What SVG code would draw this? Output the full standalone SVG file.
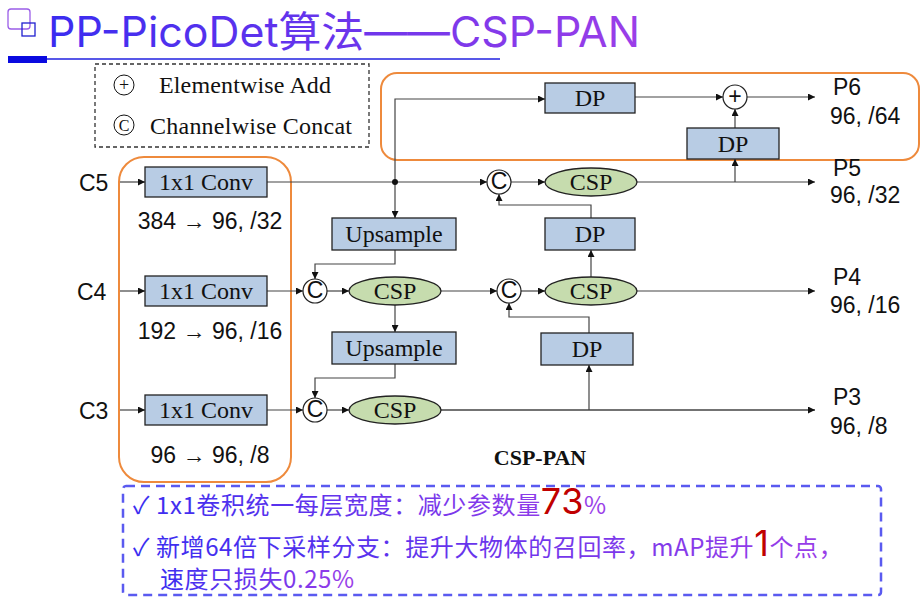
<svg xmlns="http://www.w3.org/2000/svg" width="921" height="600" viewBox="0 0 921 600">
<defs>
<linearGradient id="g" x1="0" y1="0" x2="1" y2="0"><stop offset="0" stop-color="#3a2cf0"/><stop offset="1" stop-color="#9b3ee8"/></linearGradient>
<marker id="a" viewBox="0 0 10 10" refX="10" refY="5" markerWidth="7" markerHeight="7" orient="auto" markerUnits="userSpaceOnUse"><path d="M0,0L10,5L0,10z" fill="#111"/></marker>
<style>
.box{fill:#b8cce4;stroke:#222;stroke-width:1.3}
.ell{fill:#c6dcae;stroke:#222;stroke-width:1.3}
.cir{fill:#fff;stroke:#222;stroke-width:1.2}
.ser{font-family:"Liberation Serif",serif;fill:#111;text-anchor:middle}
.san{font-family:"Liberation Sans",Arial,sans-serif;fill:#111;font-size:23px}
.ln{fill:none;stroke:#444;stroke-width:1.2}
.cj{font-family:"Noto Sans CJK SC",sans-serif;font-size:24px;fill:url(#g)}
</style>
</defs>
<rect width="921" height="600" fill="#fff"/>
<g id="title">
<rect x="8" y="9" width="22" height="20" rx="3" fill="none" stroke="#9b5ee8" stroke-width="1.3"/>
<rect x="22" y="23" width="13" height="13" fill="none" stroke="#2020d0" stroke-width="1.3"/>
<text x="48" y="47" font-family="Inter,'Noto Sans CJK SC',sans-serif" font-size="42" fill="url(#g)" textLength="592" lengthAdjust="spacingAndGlyphs">PP-PicoDet算法——CSP-PAN</text>
<line x1="8" y1="59" x2="500" y2="59" stroke="#2020e0" stroke-width="1.5"/>
<rect x="8" y="56" width="39" height="7" fill="#0a0ae0"/>
</g>
<g id="legend">
<rect x="95" y="64" width="274" height="83" fill="none" stroke="#333" stroke-width="1.3" stroke-dasharray="4,3"/>
<circle cx="124" cy="85" r="10" fill="none" stroke="#111"/><text x="124" y="91" class="ser" font-size="18">+</text>
<text x="159" y="93" class="ser" font-size="24" style="text-anchor:start" textLength="172">Elementwise Add</text>
<circle cx="124" cy="125" r="10" fill="none" stroke="#111"/><text x="124" y="131" class="ser" font-size="16">C</text>
<text x="150" y="134" class="ser" font-size="24" style="text-anchor:start" textLength="202">Channelwise Concat</text>
</g>
<g id="groups" fill="none" stroke="#ee8a3c" stroke-width="2">
<rect x="119" y="157" width="172" height="325" rx="25"/>
<rect x="381" y="73" width="538" height="87" rx="16"/>
</g>
<g id="connectors" class="ln">
<path d="M120,182H145" marker-end="url(#a)"/>
<path d="M120,291H145" marker-end="url(#a)"/>
<path d="M120,410H145" marker-end="url(#a)"/>
<path d="M267,182H487" marker-end="url(#a)"/>
<path d="M395,182V99H545" marker-end="url(#a)"/>
<path d="M395,182V218" marker-end="url(#a)"/>
<path d="M395,250V264H315V279" marker-end="url(#a)"/>
<path d="M267,291H303" marker-end="url(#a)"/>
<path d="M327,291H349" marker-end="url(#a)"/>
<path d="M441,291H497" marker-end="url(#a)"/>
<path d="M521,291H545" marker-end="url(#a)"/>
<path d="M637,291H815" marker-end="url(#a)"/>
<path d="M395,305V332" marker-end="url(#a)"/>
<path d="M395,364V378H315V398" marker-end="url(#a)"/>
<path d="M267,410H303" marker-end="url(#a)"/>
<path d="M327,410H349" marker-end="url(#a)"/>
<path d="M441,410H815" marker-end="url(#a)" stroke-width="1.6"/>
<path d="M589,410V365" marker-end="url(#a)"/>
<path d="M589,333V317H509V303" marker-end="url(#a)"/>
<path d="M591,277V250" marker-end="url(#a)"/>
<path d="M591,218V205H499V194" marker-end="url(#a)"/>
<path d="M511,182H545" marker-end="url(#a)"/>
<path d="M637,182H815" marker-end="url(#a)"/>
<path d="M735,182V159" marker-end="url(#a)"/>
<path d="M735,128V109" marker-end="url(#a)"/>
<path d="M635,97H723" marker-end="url(#a)"/>
<path d="M747,97H815" marker-end="url(#a)"/>
<circle cx="395" cy="182" r="3" fill="#111" stroke="none"/>
</g>
<g id="conv5"><rect class="box" x="145" y="167" width="122" height="30"/><text class="ser" x="206" y="190" font-size="24">1x1 Conv</text></g>
<g id="conv4"><rect class="box" x="145" y="276" width="122" height="30"/><text class="ser" x="206" y="299" font-size="24">1x1 Conv</text></g>
<g id="conv3"><rect class="box" x="145" y="395" width="122" height="30"/><text class="ser" x="206" y="418" font-size="24">1x1 Conv</text></g>
<g id="up1"><rect class="box" x="332" y="218" width="124" height="32"/><text class="ser" x="394" y="242" font-size="24">Upsample</text></g>
<g id="up2"><rect class="box" x="332" y="332" width="124" height="32"/><text class="ser" x="394" y="356" font-size="24">Upsample</text></g>
<g id="dp6a"><rect class="box" x="545" y="83" width="90" height="30"/><text class="ser" x="590" y="106" font-size="24">DP</text></g>
<g id="dp6b"><rect class="box" x="687" y="128" width="92" height="31"/><text class="ser" x="733" y="152" font-size="24">DP</text></g>
<g id="dp5"><rect class="box" x="545" y="218" width="90" height="32"/><text class="ser" x="590" y="242" font-size="24">DP</text></g>
<g id="dp4"><rect class="box" x="541" y="333" width="92" height="32"/><text class="ser" x="587" y="357" font-size="24">DP</text></g>
<g id="csp5"><ellipse class="ell" cx="591" cy="182" rx="46" ry="14"/><text class="ser" x="591" y="190" font-size="24">CSP</text></g>
<g id="csp4a"><ellipse class="ell" cx="395" cy="291" rx="46" ry="14"/><text class="ser" x="395" y="299" font-size="24">CSP</text></g>
<g id="csp4b"><ellipse class="ell" cx="591" cy="291" rx="46" ry="14"/><text class="ser" x="591" y="299" font-size="24">CSP</text></g>
<g id="csp3"><ellipse class="ell" cx="395" cy="410" rx="46" ry="14"/><text class="ser" x="395" y="418" font-size="24">CSP</text></g>
<g id="cat5"><circle class="cir" cx="499" cy="182" r="12"/><text class="san" x="499" y="189" font-size="18" text-anchor="middle">C</text></g>
<g id="cat4a"><circle class="cir" cx="315" cy="291" r="12"/><text class="san" x="315" y="298" font-size="18" text-anchor="middle">C</text></g>
<g id="cat4b"><circle class="cir" cx="509" cy="291" r="12"/><text class="san" x="509" y="298" font-size="18" text-anchor="middle">C</text></g>
<g id="cat3"><circle class="cir" cx="315" cy="410" r="12"/><text class="san" x="315" y="417" font-size="18" text-anchor="middle">C</text></g>
<g id="add6"><circle class="cir" cx="735" cy="97" r="12"/><text class="san" x="735" y="104" font-size="20" text-anchor="middle">+</text></g>
<g id="labels">
<text class="san" x="79" y="191">C5</text>
<text class="san" x="77" y="300">C4</text>
<text class="san" x="79" y="419">C3</text>
<text class="san" x="210" y="229" text-anchor="middle">384 → 96, /32</text>
<text class="san" x="210" y="339" text-anchor="middle">192 → 96, /16</text>
<text class="san" x="210" y="463" text-anchor="middle">96 → 96, /8</text>
<text class="san" x="833" y="95">P6</text><text class="san" x="830" y="124">96, /64</text>
<text class="san" x="833" y="176">P5</text><text class="san" x="830" y="203">96, /32</text>
<text class="san" x="833" y="285">P4</text><text class="san" x="830" y="313">96, /16</text>
<text class="san" x="833" y="405">P3</text><text class="san" x="830" y="434">96, /8</text>
<text class="ser" x="540" y="465" font-size="22" font-weight="bold">CSP-PAN</text>
</g>
<g id="notes">
<rect x="123" y="486" width="758" height="109" rx="3" fill="none" stroke="#5a5af0" stroke-width="2.5" stroke-dasharray="9,6"/>
<text x="133" y="514" class="cj" letter-spacing="0.6">✓ 1x1卷积统一每层宽度：减少参数量<tspan fill="#c00000" font-size="36" font-family="Inter,sans-serif">73</tspan>%</text>
<text x="133" y="556" class="cj" letter-spacing="0.6">✓ 新增64倍下采样分支：提升大物体的召回率，mAP提升<tspan fill="#c00000" font-size="36" font-family="Inter,sans-serif">1</tspan>个点，</text>
<text x="160" y="588" class="cj" letter-spacing="0.6">速度只损失0.25%</text>
</g>
</svg>
